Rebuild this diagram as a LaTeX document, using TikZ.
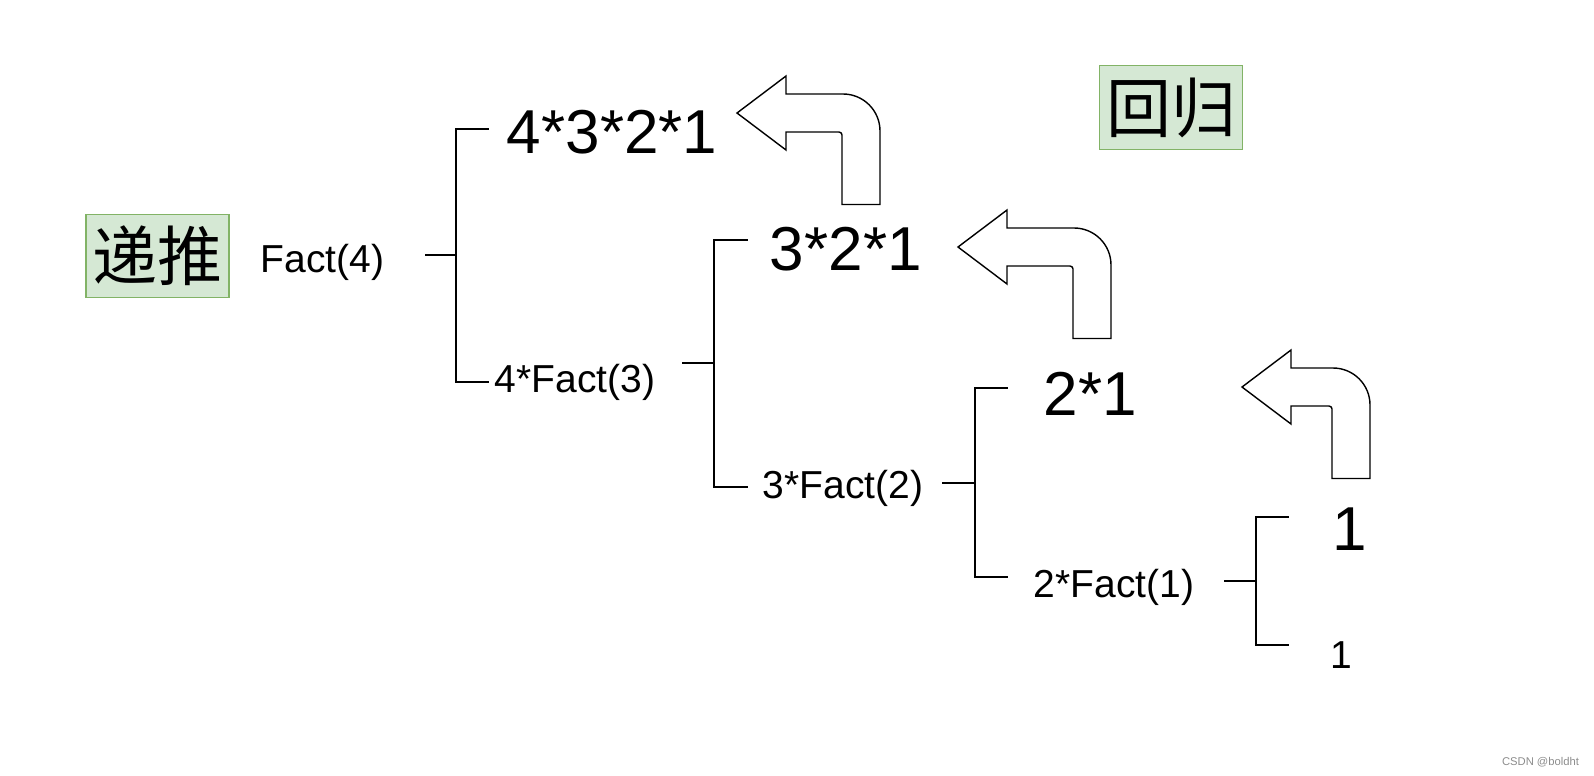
\documentclass[tikz,border=0pt]{standalone}
\usepackage{fontspec}
\setmainfont{Liberation Sans}
\newfontfamily\cjk{Noto Sans CJK SC}

\definecolor{stagefill}{HTML}{D5E8D4}
\definecolor{stageline}{HTML}{82B366}

% U-turn arrow: tip coordinate, reach from tip to right side.
\newcommand{\uturn}[2]{%
    \draw[backarrow] (#1) -- ++(49,-37) -- ++(0,18)
        -- ++({#2-86},0) arc[start angle = 90, end angle = 0, radius = 0.74cm]
        -- ++(0,73.5) -- ++(-38,0) -- ++(0,-69.5)
        arc[start angle = 0, end angle = 90, radius = 0.06cm]
        -- ++({90-#2},0) -- ++(0,18) -- cycle;
}

\begin{document}
\begin{tikzpicture}[%
        x = 0.02cm,
        y = -0.02cm,
        line width = 1.1pt,
        line cap = rect,
        small/.style = {
            anchor = base west,
            inner sep = 0pt,
            font = \fontsize{22.2pt}{26pt}\selectfont
        },
        large/.style = {
            anchor = base west,
            inner sep = 0pt,
            font = \fontsize{35.3pt}{40pt}\selectfont
        },
        stage/.style = {
            fill = stagefill,
            draw = stageline,
            line width = 0.7pt,
            minimum width = 2.86cm,
            minimum height = 1.67cm,
            inner sep = 0pt,
            font = \cjk\fontsize{37pt}{40pt}\selectfont
        },
        backarrow/.style = {
            draw = black,
            line width = 0.8pt,
            line join = miter
        }
    ]

        \useasboundingbox (0,0) rectangle (1594,775);

        % Labels for the two phases.
        \node[stage] (push) at (157.5,256) {递推};
        \node[stage] (back) at (1171,107.5) {回归};

        % Calls going down.
        \node[small] (f4) at (260,272) {Fact(4)};
        \node[small] (f3) at (494,392) {4*Fact(3)};
        \node[small] (f2) at (762,498) {3*Fact(2)};
        \node[small] (f1) at (1033,597) {2*Fact(1)};
        \node[small] (b1) at (1330,668) {1};

        % Values coming back.
        \node[large] (p4) at (506,153) {4*3*2*1};
        \node[large] (p3) at (769,270) {3*2*1};
        \node[large] (p2) at (1043,415) {2*1};
        \node[large] (p1) at (1332,550) {1};

        % Set points where the brackets split.
        \coordinate (j4) at (456,255);
        \coordinate (j3) at (714,363);
        \coordinate (j2) at (975,483);
        \coordinate (j1) at (1256,581);

        % Draw the brackets.
        \draw (j4) -- ++(-30,0);
        \draw (488,129) -| (j4) |- (488,382);

        \draw (j3) -- ++(-31,0);
        \draw (747,240) -| (j3) |- (747,487);

        \draw (j2) -- ++(-32,0);
        \draw (1007,388) -| (j2) |- (1007,577);

        \draw (j1) -- ++(-31,0);
        \draw (1288,517) -| (j1) |- (1288,645);

        % Set tips of the arrows going back.
        \coordinate (r4) at (737,113);
        \coordinate (r3) at (958,247);
        \coordinate (r2) at (1242,387);

        % Draw the arrows.
        \uturn{r4}{143}
        \uturn{r3}{153}
        \uturn{r2}{128}

        \node[anchor = east, text = black!45, inner sep = 0pt,
            font = \fontsize{6.4pt}{8pt}\selectfont] (mark) at (1580,762) {CSDN @boldht};
    \end{tikzpicture}
\end{document}
